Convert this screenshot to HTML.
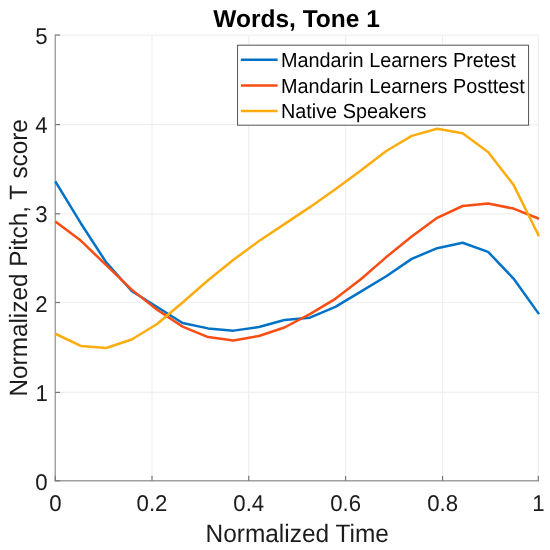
<!DOCTYPE html>
<html><head><meta charset="utf-8"><title>Words, Tone 1</title>
<style>
html,body{margin:0;padding:0;background:#fff;}
svg{display:block;text-rendering:geometricPrecision;font-family:"Liberation Sans",sans-serif;}
</style></head><body>
<svg width="550" height="550" viewBox="0 0 550 550">
<rect x="0" y="0" width="550" height="550" fill="#ffffff"/>
<g stroke="#efefef" stroke-width="1.2" fill="none"><line x1="55.30" y1="35.05" x2="55.30" y2="480.75"/><line x1="152.00" y1="35.05" x2="152.00" y2="480.75"/><line x1="248.76" y1="35.05" x2="248.76" y2="480.75"/><line x1="345.55" y1="35.05" x2="345.55" y2="480.75"/><line x1="442.55" y1="35.05" x2="442.55" y2="480.75"/><line x1="538.30" y1="35.05" x2="538.30" y2="480.75"/><line x1="55.30" y1="480.75" x2="538.30" y2="480.75"/><line x1="55.30" y1="392.40" x2="538.30" y2="392.40"/><line x1="55.30" y1="302.50" x2="538.30" y2="302.50"/><line x1="55.30" y1="213.80" x2="538.30" y2="213.80"/><line x1="55.30" y1="124.60" x2="538.30" y2="124.60"/><line x1="55.30" y1="35.05" x2="538.30" y2="35.05"/></g>
<g stroke="#a0a0a0" stroke-width="1.4" fill="none"><line x1="55.30" y1="34.45" x2="55.30" y2="481.50"/><line x1="54.60" y1="480.75" x2="539.00" y2="480.75"/></g>
<g stroke="#777" stroke-width="1.2" fill="none"><line x1="55.30" y1="480.75" x2="55.30" y2="475.85"/><line x1="152.00" y1="480.75" x2="152.00" y2="475.85"/><line x1="248.76" y1="480.75" x2="248.76" y2="475.85"/><line x1="345.55" y1="480.75" x2="345.55" y2="475.85"/><line x1="442.55" y1="480.75" x2="442.55" y2="475.85"/><line x1="538.30" y1="480.75" x2="538.30" y2="475.85"/><line x1="55.30" y1="480.75" x2="60.10" y2="480.75"/><line x1="55.30" y1="392.40" x2="60.10" y2="392.40"/><line x1="55.30" y1="302.50" x2="60.10" y2="302.50"/><line x1="55.30" y1="213.80" x2="60.10" y2="213.80"/><line x1="55.30" y1="124.60" x2="60.10" y2="124.60"/><line x1="55.30" y1="35.05" x2="60.10" y2="35.05"/></g>
<g fill="none" stroke-width="2.5" stroke-linejoin="round" stroke-linecap="butt">
<polyline stroke="#0072c6" points="55.30,181.31 80.76,223.21 106.22,262.43 131.67,290.96 157.13,307.01 182.59,323.05 208.05,328.40 233.51,330.63 258.96,327.07 284.42,319.93 309.88,317.71 335.34,306.83 360.79,291.67 386.25,276.25 411.71,258.87 437.17,248.17 462.63,242.73 488.08,251.82 513.54,278.57 539.00,314.14"/>
<polyline stroke="#f94d14" points="55.30,221.42 80.76,240.59 106.22,265.11 131.67,289.62 157.13,309.68 182.59,326.62 208.05,337.05 233.51,340.44 258.96,335.98 284.42,327.51 309.88,314.14 335.34,298.81 360.79,279.19 386.25,257.08 411.71,236.58 437.17,217.86 462.63,206.00 488.08,203.50 513.54,208.59 539.00,218.75"/>
<polyline stroke="#fcac0e" points="55.30,333.75 80.76,345.97 106.22,348.02 131.67,339.55 157.13,323.95 182.59,302.55 208.05,280.26 233.51,259.76 258.96,241.04 284.42,224.10 309.88,207.16 335.34,189.33 360.79,170.61 386.25,151.00 411.71,135.84 437.17,128.71 462.63,133.17 488.08,151.89 513.54,184.87 539.00,236.31"/>
</g>
<g font-size="22.2" fill="#1c1c1c">
<text transform="translate(55.30,511) scale(1,1.03)" text-anchor="middle">0</text><text transform="translate(152.00,511) scale(1,1.03)" text-anchor="middle">0.2</text><text transform="translate(248.76,511) scale(1,1.03)" text-anchor="middle">0.4</text><text transform="translate(345.55,511) scale(1,1.03)" text-anchor="middle">0.6</text><text transform="translate(442.55,511) scale(1,1.03)" text-anchor="middle">0.8</text><text transform="translate(538.30,511) scale(1,1.03)" text-anchor="middle">1</text><text transform="translate(47.50,490.35) scale(1,1.03)" text-anchor="end">0</text><text transform="translate(47.90,401.10) scale(1,1.03)" text-anchor="end">1</text><text transform="translate(47.50,311.80) scale(1,1.03)" text-anchor="end">2</text><text transform="translate(47.50,221.90) scale(1,1.03)" text-anchor="end">3</text><text transform="translate(47.50,133.30) scale(1,1.03)" text-anchor="end">4</text><text transform="translate(47.50,43.65) scale(1,1.03)" text-anchor="end">5</text>
</g>
<text transform="translate(297.2,541.9) scale(1,1.03)" font-size="24.45" fill="#1c1c1c" text-anchor="middle">Normalized Time</text>
<text transform="translate(27.3,257.8) rotate(-90) scale(1,1.03)" font-size="24.3" fill="#1c1c1c" text-anchor="middle">Normalized Pitch, T score</text>
<text x="296.6" y="26.6" font-size="24.5" font-weight="bold" fill="#000" text-anchor="middle">Words, Tone 1</text>
<rect x="237.55" y="45.2" width="291" height="80" fill="#fff" stroke="#5c5c5c" stroke-width="1.05"/>
<g fill="none" stroke-width="2.5"><line x1="240.9" y1="59.8" x2="277.6" y2="59.8" stroke="#0072c6"/><line x1="240.9" y1="85.4" x2="277.6" y2="85.4" stroke="#f94d14"/><line x1="240.9" y1="111.1" x2="277.6" y2="111.1" stroke="#fcac0e"/></g>
<g font-size="19.85" fill="#000"><text transform="translate(280.9,67.35) scale(1,1.03)">Mandarin Learners Pretest</text><text transform="translate(280.9,92.85) scale(1,1.03)">Mandarin Learners Posttest</text><text transform="translate(280.9,118.35) scale(1,1.03)">Native Speakers</text></g>
</svg>
</body></html>
